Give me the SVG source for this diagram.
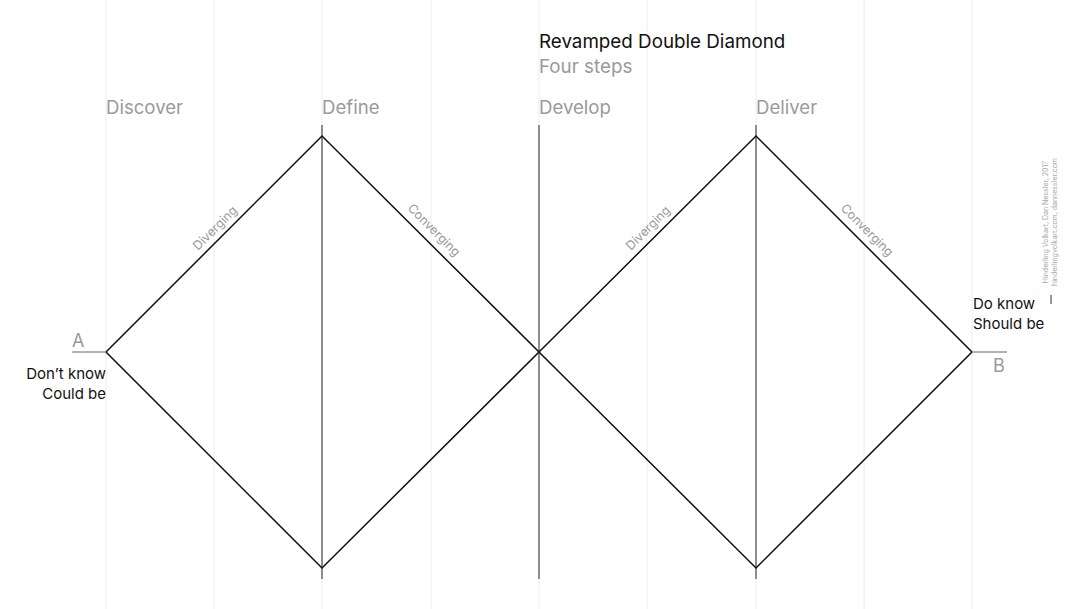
<svg xmlns="http://www.w3.org/2000/svg" width="1080" height="609" viewBox="0 0 1080 609">
<style>
.grid{stroke:#ececec;stroke-width:1}
.axis{stroke:#555;stroke-width:1.3}
.edge{stroke:#111;stroke-width:1.5;fill:none}
.stub{stroke:#999;stroke-width:1.5}
text{font-family:"Inter","Liberation Sans",sans-serif}
.phase{font-size:18.6px;fill:#9a9a9a}
.title{font-size:18.8px;fill:#111}
.sub{font-size:18.8px;fill:#9a9a9a}
.lbl{font-size:12.5px;fill:#9a9a9a}
.end{font-size:15px;fill:#111}
.pt{font-size:18px;fill:#9a9a9a}
.credit{font-size:7px;fill:#aaa}
</style>
<rect width="1080" height="609" fill="#fff"/>
<g id="grid">
<line class="grid" x1="106" y1="0" x2="106" y2="609"/>
<line class="grid" x1="214" y1="0" x2="214" y2="609"/>
<line class="grid" x1="322" y1="0" x2="322" y2="609"/>
<line class="grid" x1="431" y1="0" x2="431" y2="609"/>
<line class="grid" x1="539" y1="0" x2="539" y2="609"/>
<line class="grid" x1="647" y1="0" x2="647" y2="609"/>
<line class="grid" x1="756" y1="0" x2="756" y2="609"/>
<line class="grid" x1="864" y1="0" x2="864" y2="609"/>
<line class="grid" x1="972" y1="0" x2="972" y2="609"/>
</g>
<g id="header">
<text class="title" x="539" y="48">Revamped Double Diamond</text>
<text class="sub" x="539" y="73">Four steps</text>
</g>
<g id="phases">
<text class="phase" x="106" y="114">Discover</text>
<text class="phase" x="322" y="114">Define</text>
<text class="phase" x="539" y="114">Develop</text>
<text class="phase" x="756" y="114">Deliver</text>
</g>
<g id="connectors">
<line class="axis" x1="322" y1="125" x2="322" y2="579"/>
<line class="axis" x1="539" y1="125" x2="539" y2="579"/>
<line class="axis" x1="756" y1="125" x2="756" y2="579"/>
<polygon class="edge" points="106,352 322,136 539,352 322,568"/>
<polygon class="edge" points="539,352 756,136 972,352 756,568"/>
<line class="stub" x1="72" y1="352" x2="106" y2="352"/>
<line class="stub" x1="972" y1="352" x2="1007" y2="352"/>
</g>
<g id="edge-labels">
<text class="lbl" text-anchor="middle" transform="translate(218,231) rotate(-45)">Diverging</text>
<text class="lbl" text-anchor="middle" transform="translate(431,233) rotate(45)">Converging</text>
<text class="lbl" text-anchor="middle" transform="translate(651,231) rotate(-45)">Diverging</text>
<text class="lbl" text-anchor="middle" transform="translate(864,233) rotate(45)">Converging</text>
</g>
<g id="node-A">
<text class="pt" x="72" y="347">A</text>
<text class="end" x="106" y="379" text-anchor="end">Don’t know</text>
<text class="end" x="106" y="399" text-anchor="end">Could be</text>
</g>
<g id="node-B">
<text class="pt" x="993" y="372">B</text>
<text class="end" x="973" y="309">Do know</text>
<text class="end" x="973" y="329">Should be</text>
</g>
<g id="credit">
<text class="credit" text-anchor="middle" transform="translate(1048,222) rotate(-90)">Hinderling Volkart, Dan Nessler, 2017</text>
<text class="credit" text-anchor="middle" transform="translate(1057,222) rotate(-90)">hinderlingvolkart.com, dannessler.com</text>
<line stroke="#333" stroke-width="1" x1="1051" y1="295" x2="1051" y2="304"/>
</g>
</svg>
